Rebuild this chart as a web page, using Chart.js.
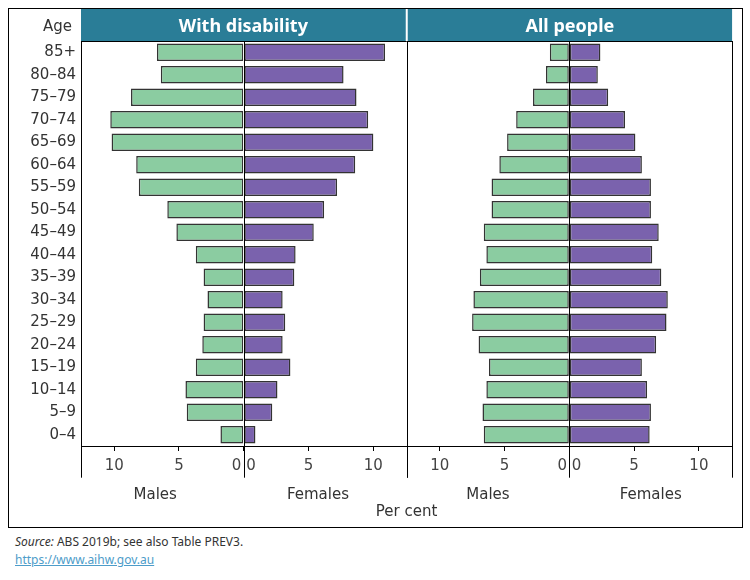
<!DOCTYPE html>
<html>
<head>
<meta charset="utf-8">
<script src="https://cdn.jsdelivr.net/npm/chart.js@4.4.0/dist/chart.umd.min.js"></script>
<style>
  html, body { margin: 0; padding: 0; background: #fff; }
  #wrap { position: absolute; left: 0; top: 0; width: 750px; height: 530px; }
  #frame { position: absolute; left: 8px; top: 8px; width: 735px; height: 520px; border: 1px solid #000; box-sizing: border-box; pointer-events: none; }
  #source { position: absolute; left: 15px; top: 533px; font: 12px "Noto Sans", sans-serif; color: #333; line-height: 18px; }
  #source a { color: #4d9cc9; }
</style>
</head>
<body>
<div id="wrap"><canvas id="pyramid"></canvas></div>
<div id="frame"></div>
<div id="source"><i>Source:</i> ABS 2019b; see also Table PREV3.<br><a href="#">https://www.aihw.gov.au</a></div>
<script>
// Age groups, top to bottom
const ageGroups = ["85+", "80–84", "75–79", "70–74", "65–69", "60–64", "55–59", "50–54", "45–49",
  "40–44", "35–39", "30–34", "25–29", "20–24", "15–19", "10–14", "5–9", "0–4"];

// Per cent of each population
const disMales   = [6.7, 6.4, 8.7, 10.3, 10.2, 8.3, 8.1, 5.9, 5.2, 3.7, 3.1, 2.8, 3.1, 3.2, 3.7, 4.5, 4.4, 1.8];
const disFemales = [10.9, 7.7, 8.7, 9.6, 10.0, 8.6, 7.2, 6.2, 5.4, 4.0, 3.9, 3.0, 3.2, 3.0, 3.6, 2.6, 2.2, 0.9];
const allMales   = [1.5, 1.8, 2.8, 4.1, 4.8, 5.4, 6.0, 6.0, 6.6, 6.4, 6.9, 7.4, 7.5, 7.0, 6.2, 6.4, 6.7, 6.6];
const allFemales = [2.4, 2.2, 3.0, 4.3, 5.1, 5.6, 6.3, 6.3, 6.9, 6.4, 7.1, 7.6, 7.5, 6.7, 5.6, 6.0, 6.3, 6.2];

const panelTitles = ["With disability", "All people"];
const axisMax = 12.56;
const tickStep = 5;

const maleColor = "#8bcca1";
const femaleColor = "#7a62ad";
const headerColor = "#2a7d97";
const textColor = "#333";
const tickFont = { family: "DejaVu Sans", size: 15 };

function barSet(label, data, color, axis) {
  return {
    label: label,
    data: data,
    xAxisID: axis,
    backgroundColor: color,
    borderColor: "#333",
    borderWidth: 1.5,
    borderSkipped: false,
    grouped: false,
    barPercentage: 0.77,
    categoryPercentage: 1
  };
}

// zeroLabel pads the 0 so the two zeros sit either side of the centre line
function xScale(reverse, title, zeroLabel) {
  return {
    type: "linear",
    axis: "x",
    position: "bottom",
    stack: "pyramid",
    stackWeight: 1,
    reverse: reverse,
    min: 0,
    max: axisMax,
    grid: { drawOnChartArea: false, drawTicks: true, tickLength: 5, color: "#000" },
    border: { display: true, color: "#000", width: 1 },
    ticks: {
      stepSize: tickStep,
      includeBounds: false,
      autoSkip: false,
      maxRotation: 0,
      padding: 6,
      color: "#444",
      font: tickFont,
      callback: (v) => (v === 0 ? zeroLabel : v)
    },
    title: { display: true, text: title, color: textColor, font: tickFont, padding: 0 },
    afterFit: (s) => { s.height = 58.6; }
  };
}

const panels = [
  { m: "xLM", f: "xLF", title: panelTitles[0], trimRight: 0.8, trimLeft: 0 },
  { m: "xRM", f: "xRF", title: panelTitles[1], trimRight: 0, trimLeft: 1.2 }
];

// Panel frames, centre lines and the teal headers
const panelFrame = {
  id: "panelFrame",
  afterDatasetsDraw(chart) {
    const { ctx, chartArea, scales } = chart;
    const crisp = (v) => Math.round(v) + 0.5;
    const drop = scales.xLM.top + 31.7;
    const headTop = chartArea.top - 33;

    ctx.save();
    ctx.strokeStyle = "#000";
    ctx.lineWidth = 1;
    ctx.beginPath();
    ctx.moveTo(chartArea.left, crisp(chartArea.top));
    ctx.lineTo(chartArea.right, crisp(chartArea.top));
    panels.forEach((p) => {
      const m = scales[p.m];
      const f = scales[p.f];
      [m.left, m.getPixelForValue(0), f.right].forEach((x) => {
        ctx.moveTo(crisp(x), chartArea.top);
        ctx.lineTo(crisp(x), drop);
      });
    });
    ctx.stroke();

    panels.forEach((p) => {
      const left = scales[p.m].left + p.trimLeft;
      const right = scales[p.f].right - p.trimRight;
      ctx.fillStyle = headerColor;
      ctx.fillRect(left, headTop, right - left, chartArea.top - headTop);
      ctx.fillStyle = "#fff";
      ctx.font = "bold 18px 'Noto Sans'";
      ctx.textAlign = "center";
      ctx.textBaseline = "alphabetic";
      ctx.fillText(p.title, (left + right) / 2, chartArea.top - 8.6);
    });

    ctx.fillStyle = textColor;
    ctx.font = "15px 'DejaVu Sans'";
    ctx.textAlign = "right";
    ctx.textBaseline = "alphabetic";
    ctx.fillText("Age", scales.y.right - 9, chartArea.top - 10.5);
    ctx.restore();
  }
};

new Chart(document.getElementById("pyramid"), {
  type: "bar",
  data: {
    labels: ageGroups,
    datasets: [
      barSet("With disability: Males", disMales, maleColor, "xLM"),
      barSet("With disability: Females", disFemales, femaleColor, "xLF"),
      barSet("All people: Males", allMales, maleColor, "xRM"),
      barSet("All people: Females", allFemales, femaleColor, "xRF")
    ]
  },
  options: {
    indexAxis: "y",
    responsive: true,
    maintainAspectRatio: false,
    animation: false,
    layout: { padding: { left: 9, right: 13.3, top: 41, bottom: 10.4 } },
    plugins: {
      legend: { display: false },
      tooltip: { enabled: false },
      title: {
        display: true,
        text: "Per cent",
        position: "bottom",
        fullSize: false,
        color: textColor,
        font: { family: "DejaVu Sans", size: 15, weight: "normal", lineHeight: 1 },
        padding: 0
      }
    },
    scales: {
      y: {
        type: "category",
        offset: true,
        grid: { display: false, drawTicks: false },
        border: { display: false },
        ticks: { color: textColor, font: tickFont, padding: 5 },
        afterFit: (s) => { s.width = 72; }
      },
      xLM: xScale(true, "Males\u00a0\u00a0\u00a0", "0\u00a0\u00a0\u00a0"),
      xLF: xScale(false, "Females\u00a0\u00a0\u00a0", "\u00a0\u00a0\u00a00"),
      xRM: xScale(true, "Males", "0\u00a0\u00a0\u00a0"),
      xRF: xScale(false, "Females", "\u00a0\u00a0\u00a00")
    }
  },
  plugins: [panelFrame]
});
</script>
</body>
</html>
